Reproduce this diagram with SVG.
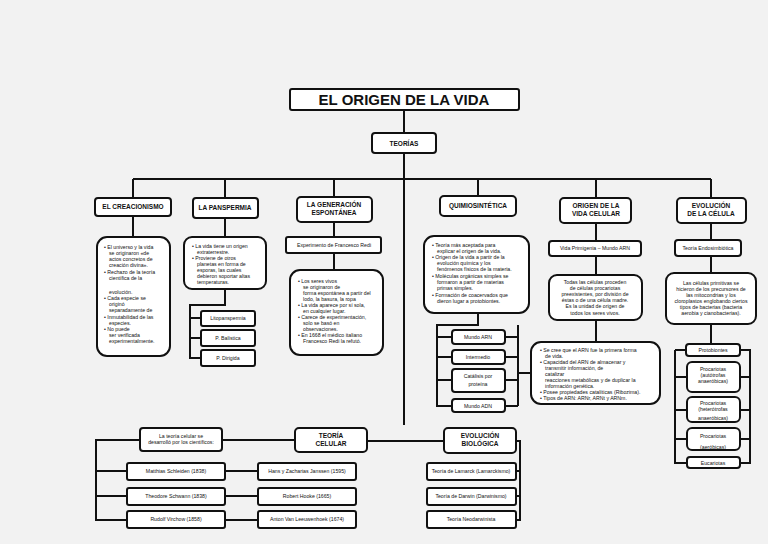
<svg xmlns="http://www.w3.org/2000/svg" width="768" height="544" viewBox="0 0 768 544">
<style>
.b{fill:#fff;stroke:#111;stroke-width:2}
.l{fill:none;stroke:#111;stroke-width:2}
text{font-family:"Liberation Sans",Arial,sans-serif;fill:#111}
.h{font-weight:bold;font-size:6.5px;text-anchor:middle}
.s{font-size:5.2px;text-anchor:middle}
.p{font-size:5.2px}
</style>
<rect width="768" height="544" fill="#f2f2f2"/>
<g id="connectors" class="l">
<path d="M404 110V133M404 153V425M133 179H711M133 179V198M225 179V198M334 179V197M478 179V196M596 179V198M711 179V198"/>
<path d="M133 216V237M225 218V237M225 289V305H190V358H201M190 318H201M190 338H201"/>
<path d="M334 222V237M334 253V270"/>
<path d="M478 313V325H437V406H452M437 337H452M437 357H452M437 380H452M505 337H518M505 357H518M505 380H518M505 406H518M518 325V406M518 373H531"/>
<path d="M596 223V241M596 256V275M596 320V342"/>
<path d="M711 223V240M711 256V273M711 324V344M675 350V463H687M675 377H687M675 410H687M675 439H687M686 350H675M740 350H750V463H740M740 377H750M740 410H750M740 439H750"/>
<path d="M367 441H444M222 440H295M140 440H96V520H127M96 471H127M96 496H127M225 471H258M225 496H258M225 520H258"/>
<path d="M516 441H520V520H516M520 471H516M520 496H516"/>
</g>
<g id="title"><rect class="b" x="290" y="89" width="229" height="21" rx="2"/><text x="404" y="105" font-size="15" font-weight="bold" text-anchor="middle">EL ORIGEN DE LA VIDA</text></g>
<g id="teorias"><rect class="b" x="372" y="133" width="64" height="20" rx="3"/><text class="h" x="404" y="146" font-size="8">TEORÍAS</text></g>
<g id="creacionismo"><rect class="b" x="95" y="198" width="76" height="18" rx="3"/><text class="h" x="133" y="209">EL CREACIONISMO</text></g>
<g id="panspermia"><rect class="b" x="193" y="198" width="65" height="20" rx="3"/><text class="h" x="225" y="210">LA PANSPERMIA</text></g>
<g id="generacion"><rect class="b" x="297" y="197" width="75" height="25" rx="4"/><text class="h" x="334" y="207">LA GENERACIÓN</text><text class="h" x="334" y="215">ESPONTÁNEA</text></g>
<g id="quimio"><rect class="b" x="440" y="196" width="76" height="20" rx="4"/><text class="h" x="478" y="208">QUIMIOSINTÉTICA</text></g>
<g id="origencel"><rect class="b" x="560" y="198" width="71" height="25" rx="4"/><text class="h" x="596" y="208">ORIGEN DE LA</text><text class="h" x="596" y="216">VIDA CELULAR</text></g>
<g id="evocel"><rect class="b" x="677" y="198" width="69" height="25" rx="4"/><text class="h" x="711" y="208">EVOLUCIÓN</text><text class="h" x="711" y="216">DE LA CÉLULA</text></g>
<g id="creatext"><rect class="b" x="97" y="237" width="73" height="119" rx="10"/><text class="p"><tspan x="104" y="249">• El universo y la vida</tspan><tspan x="109" y="255">se originaron «de</tspan><tspan x="109" y="261">actos concretos de</tspan><tspan x="109" y="267">creación divina».</tspan><tspan x="104" y="274">• Rechazo de la teoría</tspan><tspan x="109" y="280">científica de la</tspan><tspan x="109" y="294">evolución.</tspan><tspan x="104" y="300">• Cada especie se</tspan><tspan x="109" y="306">originó</tspan><tspan x="109" y="312">separadamente de</tspan><tspan x="104" y="319">• Inmutabilidad de las</tspan><tspan x="109" y="325">especies.</tspan><tspan x="104" y="331">• No puede</tspan><tspan x="109" y="337">ser verificada</tspan><tspan x="109" y="343">experimentalmente.</tspan></text></g>
<g id="panstext"><rect class="b" x="184" y="237" width="82" height="52" rx="8"/><text class="p"><tspan x="192" y="248">• La vida tiene un origen</tspan><tspan x="197" y="254">extraterrestre.</tspan><tspan x="192" y="260">• Proviene de otros</tspan><tspan x="197" y="266">planetas en forma de</tspan><tspan x="197" y="272">esporas, las cuales</tspan><tspan x="197" y="278">debieron soportar altas</tspan><tspan x="197" y="284">temperaturas.</tspan></text></g>
<g id="lito"><rect class="b" x="201" y="311" width="54" height="15" rx="2"/><text class="s" x="228" y="320">Litopanspermia</text></g>
<g id="balis"><rect class="b" x="201" y="330" width="54" height="16" rx="2"/><text class="s" x="228" y="340">P. Balística</text></g>
<g id="dirig"><rect class="b" x="201" y="350" width="54" height="16" rx="2"/><text class="s" x="228" y="360">P. Dirigida</text></g>
<g id="redi"><rect class="b" x="286" y="237" width="95" height="16" rx="2"/><text class="s" x="334" y="247">Experimento de Francesco Redi</text></g>
<g id="genetext"><rect class="b" x="290" y="270" width="93" height="85" rx="10"/><text class="p"><tspan x="298" y="283">• Los seres vivos</tspan><tspan x="303" y="289">se originaron de</tspan><tspan x="303" y="295">forma espontánea a partir del</tspan><tspan x="303" y="301">lodo, la basura, la ropa</tspan><tspan x="298" y="307">• La vida aparece por sí sola,</tspan><tspan x="303" y="313">en cualquier lugar.</tspan><tspan x="298" y="319">• Carece de experimentación,</tspan><tspan x="303" y="325">solo se basó en</tspan><tspan x="303" y="331">observaciones.</tspan><tspan x="298" y="337">• En 1668 el médico italiano</tspan><tspan x="303" y="343">Francesco Redi la refutó.</tspan></text></g>
<g id="quimtext"><rect class="b" x="424" y="236" width="105" height="77" rx="10"/><text class="p"><tspan x="432" y="247">• Teoría más aceptada para</tspan><tspan x="437" y="253">explicar el origen de la vida.</tspan><tspan x="432" y="259">• Origen de la vida a partir de la</tspan><tspan x="437" y="265">evolución química y los</tspan><tspan x="437" y="271">fenómenos físicos de la materia.</tspan><tspan x="432" y="278">• Moléculas orgánicas simples se</tspan><tspan x="437" y="284">formaron a partir de materias</tspan><tspan x="437" y="290">primas simples.</tspan><tspan x="432" y="297">• Formación de coacervados que</tspan><tspan x="437" y="303">dieron lugar a protobiontes.</tspan></text></g>
<g id="marn"><rect class="b" x="452" y="330" width="53" height="14" rx="3"/><text class="s" x="478" y="339">Mundo ARN</text></g>
<g id="inter"><rect class="b" x="452" y="350" width="53" height="14" rx="3"/><text class="s" x="478" y="359">Intermedio</text></g>
<g id="catal"><rect class="b" x="452" y="369" width="53" height="23" rx="3"/><text class="s" x="478" y="378">Catálisis por</text><text class="s" x="478" y="386">proteína</text></g>
<g id="madn"><rect class="b" x="452" y="399" width="53" height="13" rx="3"/><text class="s" x="478" y="408">Mundo ADN</text></g>
<g id="primig"><rect class="b" x="549" y="241" width="92" height="15" rx="3"/><text class="s" x="595" y="250">Vida Primigenia – Mundo ARN</text></g>
<g id="todas"><rect class="b" x="549" y="275" width="93" height="45" rx="8"/><text class="s"><tspan x="595" y="284">Todas las células proceden</tspan><tspan x="595" y="290">de células procariotas</tspan><tspan x="595" y="296">preexistentes, por división de</tspan><tspan x="595" y="302">éstas o de una célula madre.</tspan><tspan x="595" y="308">Es la unidad de origen de</tspan><tspan x="595" y="315">todos los seres vivos.</tspan></text></g>
<g id="arntext"><rect class="b" x="531" y="342" width="129" height="62" rx="10"/><text class="p"><tspan x="540" y="352">• Se cree que el ARN fue la primera forma</tspan><tspan x="545" y="358">de vida.</tspan><tspan x="540" y="364">• Capacidad del ARN de almacenar y</tspan><tspan x="545" y="370">transmitir información, de</tspan><tspan x="545" y="376">catalizar</tspan><tspan x="545" y="382">reacciones metabólicas y de duplicar la</tspan><tspan x="545" y="388">información genética.</tspan><tspan x="540" y="394">• Posee propiedades catalíticas (Ribozima).</tspan><tspan x="540" y="400">• Tipos de ARN: ARNr, ARNt y ARNm.</tspan></text></g>
<g id="endo"><rect class="b" x="675" y="240" width="66" height="16" rx="3"/><text class="s" x="708" y="250">Teoría Endosimbiótica</text></g>
<g id="endotext"><rect class="b" x="666" y="273" width="90" height="51" rx="8"/><text class="s"><tspan x="711" y="285">Las células primitivas se</tspan><tspan x="711" y="291">hicieron de los precursores de</tspan><tspan x="711" y="297">las mitocondrias y los</tspan><tspan x="711" y="303">cloroplastos englobando ciertos</tspan><tspan x="711" y="309">tipos de bacterias (bacteria</tspan><tspan x="711" y="315">aerobia y cianobacterias).</tspan></text></g>
<g id="proto"><rect class="b" x="686" y="344" width="54" height="12" rx="3"/><text class="s" x="713" y="352">Protobiontes</text></g>
<g id="pauto"><rect class="b" x="687" y="362" width="53" height="30" rx="5"/><text class="s" x="713" y="371">Procariotas</text><text class="s" x="713" y="377">(autótrofas</text><text class="s" x="713" y="383">anaeróbicas)</text></g>
<g id="phete"><rect class="b" x="687" y="397" width="53" height="25" rx="5"/><text class="s" x="713" y="405">Procariotas</text><text class="s" x="713" y="411">(heterótrofas</text><text class="s" x="713" y="420">anaeróbicas)</text></g>
<g id="paero"><rect class="b" x="687" y="428" width="53" height="22" rx="5"/><text class="s" x="713" y="438">Procariotas</text><text class="s" x="713" y="449">(aeróbicas)</text></g>
<g id="euca"><rect class="b" x="687" y="457" width="53" height="11" rx="3"/><text class="s" x="713" y="465">Eucariotas</text></g>
<g id="tcel"><rect class="b" x="295" y="428" width="72" height="24" rx="4"/><text class="h" x="331" y="438">TEORÍA</text><text class="h" x="331" y="446">CELULAR</text></g>
<g id="evobio"><rect class="b" x="444" y="428" width="72" height="25" rx="4"/><text class="h" x="480" y="438">EVOLUCIÓN</text><text class="h" x="480" y="446">BIOLÓGICA</text></g>
<g id="desarr"><rect class="b" x="140" y="428" width="82" height="23" rx="3"/><text class="s" x="181" y="438">La teoría celular se</text><text class="s" x="181" y="444">desarrolló por los científicos:</text></g>
<g id="schl"><rect class="b" x="127" y="463" width="98" height="17" rx="2"/><text class="s" x="176" y="473">Matthias Schleiden (1838)</text></g>
<g id="schw"><rect class="b" x="127" y="488" width="98" height="17" rx="2"/><text class="s" x="176" y="498">Theodore Schwann (1838)</text></g>
<g id="virc"><rect class="b" x="127" y="511" width="98" height="17" rx="2"/><text class="s" x="176" y="521">Rudolf Virchow (1858)</text></g>
<g id="jans"><rect class="b" x="258" y="463" width="98" height="17" rx="2"/><text class="s" x="307" y="473">Hans y Zacharias Janssen (1595)</text></g>
<g id="hook"><rect class="b" x="258" y="488" width="98" height="17" rx="2"/><text class="s" x="307" y="498">Robert Hooke (1665)</text></g>
<g id="leeu"><rect class="b" x="258" y="511" width="98" height="17" rx="2"/><text class="s" x="307" y="521">Anton Van Leeuwenhoek (1674)</text></g>
<g id="lama"><rect class="b" x="427" y="463" width="89" height="17" rx="2"/><text class="s" x="471" y="473">Teoría de Lamarck (Lamarckismo)</text></g>
<g id="darw"><rect class="b" x="427" y="488" width="89" height="17" rx="2"/><text class="s" x="471" y="498">Teoría de Darwin (Darwinismo)</text></g>
<g id="neod"><rect class="b" x="427" y="511" width="89" height="17" rx="2"/><text class="s" x="471" y="521">Teoría Neodarwinista</text></g>
</svg>
